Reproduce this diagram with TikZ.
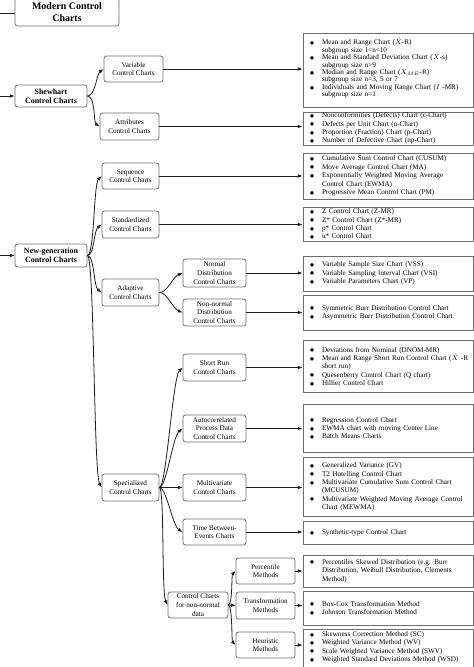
\documentclass[tikz,border=0pt]{standalone}
\usepackage{fontspec}
\setmainfont{Liberation Serif}
\newfontfamily\dvs{DejaVu Sans}
\usetikzlibrary{arrows.meta}
\definecolor{boxgray}{HTML}{6E6E6E}
\definecolor{linecol}{HTML}{1E1E1E}
\newcommand\bul{\raisebox{0.4bp}{\dvs\fontsize{4.5}{4.5}\selectfont ●}}
\newcommand\bitem[1]{\makebox[17bp][l]{\hspace{5.2bp}\bul}#1}
\newcommand\bcont[1]{\hspace*{17bp}#1}
\newcommand\xbar{$\smash{\bar{X}}$}
\tikzset{
  bx/.style={draw=boxgray, line width=0.8bp, rounded corners=2.5bp, fill=white,
    align=center, inner sep=0.5bp, font=\fontsize{7.2}{8.7}\selectfont},
  bxb/.style={bx, font=\bfseries\fontsize{8}{9.3}\selectfont},
  lst/.style={draw=boxgray, line width=0.9bp, fill=white, minimum width=170bp,
    text width=166bp, inner xsep=2bp, inner ysep=0bp, align=left,
    font=\fontsize{7.2}{8.4}\selectfont},
  conn/.style={draw=linecol, line width=0.8bp, -{Latex[length=4.8bp,width=3.8bp]}},
  plain/.style={draw=linecol, line width=0.8bp}
}
\begin{document}
\lineskiplimit=-20pt\relax
\begin{tikzpicture}[x=1bp,y=-1bp]
\useasboundingbox[fill=white] (0,0) rectangle (474,667);
% left column
\node[bx, font=\bfseries\fontsize{10}{12}\selectfont, minimum width=104bp, minimum height=28bp] (modern) at (67,12) {Modern Control\\Charts};
\node[bxb, minimum width=72bp, minimum height=22bp] (shewhart) at (51,96) {Shewhart\\Control Charts};
\node[bxb, minimum width=72bp, minimum height=23bp] (newgen) at (51,255.5) {New-generation\\Control Charts};
\coordinate (l1) at (-3,13);
\coordinate (l2) at (-3,96);
\coordinate (l3) at (-3,255.5);
\draw[plain] (l1) -- (l1 -| modern.west);
\draw[conn] (l2) -- (shewhart.west);
\draw[conn] (l3) -- (newgen.west);
% second column
\node[bx, minimum width=59bp, minimum height=26bp] (variable) at (133.5,69) {Variable\\Control Charts};
\node[bx, minimum width=59bp, minimum height=27bp] (attributes) at (129.5,126.5) {Attributes\\Control Charts};
\node[bx, minimum width=57bp, minimum height=26bp] (sequence) at (130.5,176) {Sequence\\Control Charts};
\node[bx, minimum width=57bp, minimum height=27bp] (standardized) at (130.5,224.5) {Standardized\\Control Charts};
\node[bx, minimum width=57bp, minimum height=27bp] (adaptive) at (130.5,292.5) {Adaptive\\Control Charts};
\node[bx, minimum width=57bp, minimum height=27bp] (specialized) at (130.5,487.5) {Specialized\\Control Charts};
% third column
\node[bx, minimum width=63bp, minimum height=28bp] (normal) at (214.5,273) {Normal\\Distribution\\Control Charts};
\node[bx, minimum width=63bp, minimum height=27bp] (nonnormal) at (214.5,312.5) {Non-normal\\Distribution\\Control Charts};
\node[bx, minimum width=63bp, minimum height=27bp] (shortrun) at (214.5,367.5) {Short Run\\Control Charts};
\node[bx, minimum width=63bp, minimum height=27bp] (autocorr) at (214.5,428.5) {Autocorrelated\\Process Data\\Control Charts};
\node[bx, minimum width=63bp, minimum height=27bp] (multivariate) at (214.5,487.5) {Multivariate\\Control Charts};
\node[bx, minimum width=63bp, minimum height=26bp] (timebetween) at (214.5,532) {Time Between-\\Events Charts};
\node[bx, minimum width=60bp, minimum height=26bp] (nndata) at (198,605) {Control Charts\\for non-normal\\data};
% fourth column
\node[bx, minimum width=59bp, minimum height=26bp] (percentile) at (265.5,571) {Percentile\\Methods};
\node[bx, minimum width=59bp, minimum height=27bp] (transformation) at (265.5,605.5) {Transformation\\Methods};
\node[bx, minimum width=59bp, minimum height=26bp] (heuristic) at (265.5,645) {Heuristic\\Methods};
% list boxes
\node[lst, minimum height=74bp, font=\fontsize{7.2}{7.5}\selectfont] (varlist) at (388,70) {%
\bitem{Mean and Range Chart (\xbar-R)}\\
\bcont{subgroup size 1<n<10}\\
\bitem{Mean and Standard Deviation Chart (\xbar-s)}\\
\bcont{subgroup size n>9}\\
\bitem{Median and Range Chart ($X_{ME}$-R)}\\
\bcont{subgroup size n=3, 5 or 7}\\
\bitem{Individuals and Moving Range Chart ($I$ -MR)}\\
\bcont{subgroup size n=1}\\[-4bp]
\mbox{}};
\node[lst, minimum height=33bp] (attrlist) at (388,128.5) {%
\bitem{Nonconformities (Defects) Chart (c-Chart)}\\
\bitem{Defects per Unit Chart (u-Chart)}\\
\bitem{Proportion (Fraction) Chart (p-Chart)}\\
\bitem{Number of Defective Chart (np-Chart)}};
\node[lst, minimum height=46bp] (seqlist) at (388,176) {%
\bitem{Cumulative Sum Control Chart (CUSUM)}\\
\bitem{Move Average Control Chart (MA)}\\
\bitem{Exponentially Weighted Moving Average}\\
\bcont{Control Chart (EWMA)}\\
\bitem{Progressive Mean Control Chart (PM)}};
\node[lst, minimum height=34bp] (stdlist) at (388,224) {%
\bitem{Z Control Chart (Z-MR)}\\
\bitem{Z* Control Chart (Z*-MR)}\\
\bitem{p* Control Chart}\\
\bitem{u* Control Chart}};
\node[lst, minimum height=35bp] (normlist) at (388,273.5) {%
\bitem{Variable Sample Size Chart (VSS)}\\
\bitem{Variable Sampling Interval Chart (VSI)}\\
\bitem{Variable Parameters Chart (VP)}};
\node[lst, minimum height=35bp] (nonnormlist) at (388,312.5) {%
\bitem{Symmetric Burr Distribution Control Chart}\\
\bitem{Asymmetric Burr Distribution Control Chart}};
\node[lst, minimum height=52bp] (shortlist) at (388,366.5) {%
\bitem{Deviations from Nominal (DNOM-MR)}\\
\bitem{Mean and Range Short Run Control Chart (\xbar\ -R}\\
\bcont{short run)}\\
\bitem{Quesenberry Control Chart (Q chart)}\\
\bitem{Hillier Control Chart}};
\node[lst, minimum height=48bp] (autolist) at (388,428) {%
\bitem{Regression Control Chart}\\
\bitem{EWMA chart with moving Center Line}\\
\bitem{Batch Means Charts}};
\node[lst, minimum height=59bp] (multilist) at (388,487) {%
\bitem{Generalized Variance (GV)}\\
\bitem{T2 Hotelling Control Chart}\\
\bitem{Multivariate Cumulative Sum Control Chart}\\
\bcont{(MCUSUM)}\\
\bitem{Multivariate Weighted Moving Average Control}\\
\bcont{Chart (MEWMA)}};
\node[lst, minimum height=22.5bp] (synlist) at (388,533) {%
\bitem{Synthetic-type Control Chart}};
\node[lst, minimum height=32bp] (perclist) at (388,571) {%
\bitem{Percentiles Skewed Distribution (e.g. Burr}\\
\bcont{Distribution, Weibull Distribution, Clements}\\
\bcont{Method)}};
\node[lst, minimum height=34bp] (translist) at (388,608) {%
\bitem{Box-Cox Transformation Method}\\
\bitem{Johnson Transformation Method}};
\node[lst, minimum height=52bp] (heurlist) at (388,655) {%
\bitem{Skewness Correction Method (SC)}\\
\bitem{Weighted Variance Method (WV)}\\
\bitem{Scale Weighted Variance Method (SWV)}\\
\bitem{Weighted Standard Deviations Method (WSD)}\\
\mbox{}\\
\mbox{}};
% curved connectors
\draw[conn] (shewhart.east) .. controls +(8,0) and +(-7,5) .. (variable.west);
\draw[conn] (shewhart.east) .. controls +(8,0) and +(-6,-4) .. (attributes.west);
\draw[conn] (newgen.east) .. controls +(7,0) and +(-8,8) .. (sequence.west);
\draw[conn] (newgen.east) .. controls +(7,0) and +(-8,6) .. (standardized.west);
\draw[conn] (newgen.east) .. controls +(7,0) and +(-8,-6) .. (adaptive.west);
\draw[conn] (newgen.east) .. controls +(7,0) and +(-8,-15) .. (specialized.west);
\draw[conn] (adaptive.east) .. controls +(8,0) and +(-10,4) .. (normal.west);
\draw[conn] (adaptive.east) .. controls +(8,0) and +(-10,-4) .. (nonnormal.west);
\draw[conn] (specialized.east) .. controls +(7,0) and +(-10,10) .. (shortrun.west);
\draw[conn] (specialized.east) .. controls +(7,0) and +(-10,8) .. (autocorr.west);
\draw[conn] (specialized.east) -- (multivariate.west);
\draw[conn] (specialized.east) .. controls +(7,0) and +(-10,-6) .. (timebetween.west);
\draw[conn] (specialized.east) .. controls +(5,0) and +(-6,-12) .. (nndata.west);
\draw[conn] (nndata.east) .. controls +(4,0) and +(-4,4) .. (percentile.west);
\draw[conn] (nndata.east) -- (transformation.west);
\draw[conn] (nndata.east) .. controls +(4,0) and +(-4,-4) .. (heuristic.west);
% straight connectors to the lists
\draw[conn] (variable.east) -- (variable.east -| varlist.west);
\draw[conn] (attributes.east) -- (attributes.east -| attrlist.west);
\draw[conn] (sequence.east) -- (sequence.east -| seqlist.west);
\draw[conn] (standardized.east) -- (standardized.east -| stdlist.west);
\draw[conn] (normal.east) -- (normal.east -| normlist.west);
\draw[conn] (nonnormal.east) -- (nonnormal.east -| nonnormlist.west);
\draw[conn] (shortrun.east) -- (shortrun.east -| shortlist.west);
\draw[conn] (autocorr.east) -- (autocorr.east -| autolist.west);
\draw[conn] (multivariate.east) -- (multivariate.east -| multilist.west);
\draw[conn] (timebetween.east) -- (timebetween.east -| synlist.west);
\draw[conn] (percentile.east) -- (percentile.east -| perclist.west);
\draw[conn] (transformation.east) -- (transformation.east -| translist.west);
\draw[conn] (heuristic.east) -- (heuristic.east -| heurlist.west);
\end{tikzpicture}
\end{document}
